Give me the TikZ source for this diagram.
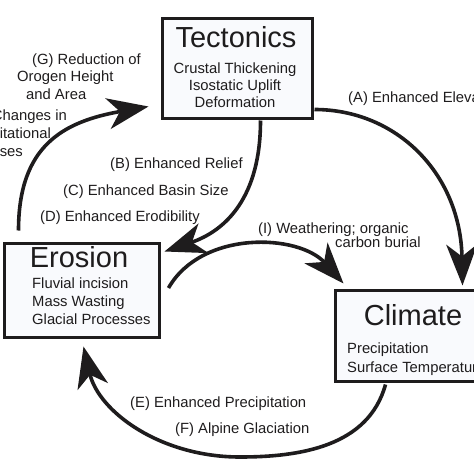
\documentclass[tikz,border=0pt]{standalone}
\usepackage{fontspec}
\setmainfont{Liberation Sans}
\usetikzlibrary{arrows.meta,calc}
\definecolor{ink}{RGB}{30,28,29}
\definecolor{paper}{RGB}{249,250,253}
\newcommand{\ttl}[1]{\fontsize{29}{32}\selectfont #1}

\tikzset{
  procbox/.style={draw=ink,line width=3pt,fill=paper,inner sep=0pt},
  loop/.style={draw=ink,line width=3.6pt,-{Stealth[length=41pt,width=31pt,inset=12pt]}},
  lbl/.style={anchor=base west,inner sep=0pt,text=ink},
  lblr/.style={anchor=base east,inner sep=0pt,text=ink},
  ttlnode/.style={anchor=base,inner sep=0pt,text=ink},
}

\begin{document}
\begin{tikzpicture}[x=1pt,y=-1pt,font=\fontsize{14.8}{17}\selectfont]
\clip (0,0) rectangle (474,474);
% boxes
\node[procbox,minimum width=150pt,minimum height=100pt] (tect) at (237,68){};
\node[procbox,minimum width=155pt,minimum height=94pt] (eros) at (81.5,290){};
\node[procbox,minimum width=150pt,minimum height=91pt] (clim) at (410,335.5){};
\node[ttlnode] (tectT) at (236,47){\ttl{Tectonics}};
\foreach \s [count=\i from 0] in {Crustal Thickening,Isostatic Uplift,Deformation}
   \node[ttlnode] (tect\i) at (235,73+17*\i){\s};
\node[ttlnode] (erosT) at (79,267){\ttl{Erosion}};
\foreach \s [count=\i from 0] in {Fluvial incision,Mass Wasting,Glacial Processes}
   \node[lbl] (eros\i) at (32,288+18*\i){\s};
\node[ttlnode] (climT) at (413,325){\ttl{Climate}};
\foreach \s [count=\i from 0] in {Precipitation,Surface Temperature}
   \node[lbl] (clim\i) at (347,353+19*\i){\s};
% feedback loops
\coordinate (efbot) at (240,457);
\draw[loop] ($(tect.south east)+(1,-10)$) .. controls +(82,0) and +(-2,-112) .. ($(clim.north west)+(129,-3)$);
\draw[loop] ($(tect.south west)+(100,1)$) .. controls +(0,76) and +(62,-21) .. ($(eros.north east)+(4,10)$);
\draw[loop] ($(eros.east)+(8,-2)$) .. controls +(33,-58) and +(-45,-50) .. ($(clim.north west)+(10,-5)$);
\draw[loop] ($(clim.south west)+(52,2)$) .. controls +(-17,62) and +(60,0) .. (efbot)
   .. controls +(-80,0) and +(15,65) .. ($(eros.south west)+(81,8)$);
\draw[loop] ($(eros.north west)+(16,-11)$) .. controls +(0,-85) and +(-85,15) .. ($(tect.south west)+(-12,-13)$);
% labels
\node[lbl] (la) at (348,102){(A) Enhanced Elevation};
\node[lbl] (lb) at (110,168){(B) Enhanced Relief};
\node[lbl] (lc) at (63,195){(C) Enhanced Basin Size};
\node[lbl] (ld) at (40,221){(D) Enhanced Erodibility};
\node[lbl] (le) at (130,407){(E) Enhanced Precipitation};
\node[lbl] (lf) at (175,433){(F) Alpine Glaciation};
\node[lbl] (lg1) at (32,64){(G) Reduction of};
\node[lbl] (lg2) at (17,81){Orogen Height};
\node[lbl] (lg3) at (26,99){and Area};
\node[lblr] (lh1) at (67,120){(H) Changes in};
\node[lblr] (lh2) at (51,138){Gravitational};
\node[lblr] (lh3) at (23,156){Processes};
\node[lbl] (li1) at (258,233){(I) Weathering; organic};
\node[lbl] (li2) at (335,247){carbon burial};
\end{tikzpicture}
\end{document}
